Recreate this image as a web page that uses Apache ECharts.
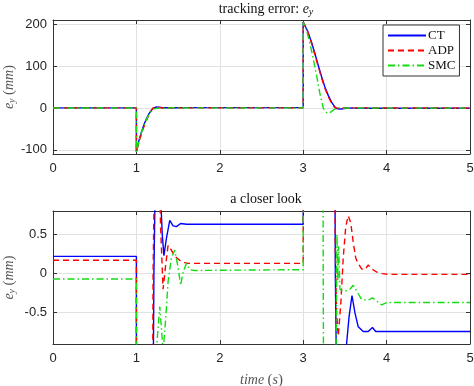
<!DOCTYPE html>
<html>
<head>
<meta charset="utf-8">
<script src="https://cdn.jsdelivr.net/npm/echarts@6/dist/echarts.min.js"></script>
<style>
  html, body { margin: 0; padding: 0; background: #fff; }
  #chart { width: 474px; height: 386px; }
</style>
</head>
<body>
<div id="chart"></div>
<script>
// [time (s), e_y (mm)]
var ctPoints = [
  [0, 0.22], [1, 0.22], [1, -105], [1.03, -78], [1.06, -58], [1.09, -40], [1.12, -26],
  [1.15, -14], [1.18, -5], [1.21, 0], [1.24, 2.2], [1.27, 2.0], [1.29, 1.0], [1.31, 0.5],
  [1.33, 0.23], [1.36, 0.45], [1.40, 0.68], [1.44, 0.61], [1.48, 0.6], [1.53, 0.64],
  [1.6, 0.63], [3, 0.63], [3, 205], [3.05, 185], [3.10, 157], [3.14, 130], [3.18, 102],
  [3.22, 75], [3.26, 50], [3.30, 30], [3.34, 14], [3.37, 5], [3.385, 0], [3.41, -2.2],
  [3.45, -2.6], [3.49, -1.6], [3.52, -0.9], [3.55, -0.55], [3.585, -0.28], [3.62, -0.5],
  [3.66, -0.68], [3.72, -0.74], [3.78, -0.74], [3.83, -0.69], [3.87, -0.74], [5, -0.74]
]
var adpPoints = [
  [0, 0.17], [1, 0.17], [1, -105], [1.03, -82], [1.06, -62], [1.09, -45], [1.12, -30],
  [1.15, -17], [1.18, -6], [1.20, 0], [1.22, 1.6], [1.25, 2.3], [1.27, 1.5], [1.29, 0.6],
  [1.32, -0.2], [1.35, 0.1], [1.38, 0.36], [1.42, 0.3], [1.46, 0.22], [1.52, 0.17],
  [1.58, 0.14], [1.62, 0.13], [3, 0.13], [3, 205], [3.05, 184], [3.10, 155], [3.14, 127],
  [3.18, 99], [3.22, 72], [3.26, 47], [3.30, 27], [3.34, 12], [3.37, 3], [3.385, 0.3],
  [3.40, -0.5], [3.42, -0.8], [3.45, -0.4], [3.48, 0.2], [3.51, 0.6], [3.54, 0.74],
  [3.57, 0.65], [3.60, 0.4], [3.63, 0.2], [3.66, 0.13], [3.70, 0.06], [3.74, 0.05],
  [3.78, 0.11], [3.82, 0.06], [3.88, 0.02], [3.95, 0.0], [4.02, -0.01], [5, -0.01]
]
var smcPoints = [
  [0, -0.07], [1, -0.07], [1, -105], [1.03, -80], [1.06, -60], [1.09, -42], [1.12, -28],
  [1.15, -16], [1.18, -7], [1.21, -2.2], [1.245, -0.9], [1.28, -0.42], [1.30, -0.7],
  [1.32, -1.0], [1.35, -0.6], [1.38, -0.1], [1.42, 0.2], [1.46, 0.30], [1.50, 0.08],
  [1.53, -0.15], [1.56, 0.02], [1.60, 0.13], [1.64, 0.05], [1.70, 0.04], [3, 0.05],
  [3, 205], [3.04, 185], [3.08, 155], [3.12, 118], [3.16, 78], [3.20, 35], [3.24, 0],
  [3.27, -10], [3.30, -13], [3.33, -10], [3.36, -5], [3.38, -2], [3.395, -0.9],
  [3.405, 0.5], [3.415, -0.1], [3.425, 0.35], [3.44, -0.2], [3.47, -0.22], [3.52, -0.22],
  [3.56, -0.2], [3.60, -0.15], [3.64, -0.22], [3.70, -0.33], [3.78, -0.34], [3.83, -0.31],
  [3.88, -0.35], [3.94, -0.40], [4.0, -0.37], [5, -0.37]
]

var seriesNames = ['CT', 'ADP', 'SMC']
var topYTicks = [-100, 0, 100, 200]
var bottomYTicks = [-0.5, 0, 0.5]
var xTicks = [0, 1, 2, 3, 4, 5]

var chart = echarts.init(document.getElementById('chart'))

var sans = 'Liberation Sans'
var serif = 'Liberation Serif'
var axisColor = '#333'
var gridColor = '#e2e2e2'

var nameRich = {
  i: { fontFamily: serif, fontStyle: 'italic', fontSize: 14, color: '#555' },
  s: { fontFamily: serif, fontStyle: 'italic', fontSize: 10, color: '#555', padding: [6, 0, 0, 0] },
  n: { fontFamily: serif, fontSize: 15, color: '#555' }
}

function xAxisFor(gridIndex, withName) {
  return {
    type: 'value', gridIndex: gridIndex, min: 0, max: 5, interval: 1,
    name: withName ? '{i|time} {n|(}{i|s}{n|)}' : '',
    nameLocation: 'middle', nameGap: 29, nameMoveOverlap: false,
    nameTextStyle: { rich: nameRich },
    axisLine: { show: true, onZero: false, lineStyle: { color: axisColor } },
    axisTick: { show: true, inside: true, length: 4, customValues: xTicks, lineStyle: { color: axisColor } },
    axisLabel: { fontFamily: sans, fontSize: 13, color: '#262626', margin: 8, customValues: xTicks },
    splitLine: { show: true, lineStyle: { color: gridColor } }
  }
}

function yAxisFor(gridIndex, lo, hi, ticks) {
  return {
    type: 'value', gridIndex: gridIndex, min: lo, max: hi,
    name: '{i|e}{s|y} {n|(}{i|mm}{n|)}',
    nameLocation: 'middle', nameGap: 36, nameRotate: 90, nameMoveOverlap: false,
    nameTextStyle: { rich: nameRich },
    axisLine: { show: true, onZero: false, lineStyle: { color: axisColor } },
    axisTick: { show: true, inside: true, length: 4, customValues: ticks, lineStyle: { color: axisColor } },
    axisLabel: { fontFamily: sans, fontSize: 13, color: '#262626', margin: 6, customValues: ticks },
    splitLine: { show: true, lineStyle: { color: gridColor } }
  }
}

function boxX(gridIndex) {
  return {
    type: 'value', gridIndex: gridIndex, min: 0, max: 5, interval: 1, position: 'top',
    axisLine: { show: true, onZero: false, lineStyle: { color: axisColor } },
    axisTick: { show: true, inside: true, length: 4, customValues: xTicks, lineStyle: { color: axisColor } },
    axisLabel: { show: false }, splitLine: { show: false }
  }
}

function boxY(gridIndex, lo, hi, ticks) {
  return {
    type: 'value', gridIndex: gridIndex, min: lo, max: hi, position: 'right',
    axisLine: { show: true, onZero: false, lineStyle: { color: axisColor } },
    axisTick: { show: true, inside: true, length: 4, customValues: ticks, lineStyle: { color: axisColor } },
    axisLabel: { show: false }, splitLine: { show: false }
  }
}

var colors = ['#0000ff', '#ff0000', '#11dd11']
var dashes = ['solid', [6, 4], [7, 3, 1.5, 3]]
var allPoints = [ctPoints, adpPoints, smcPoints]

var series = []
for (let g = 0; g < 2; g++) {
  allPoints.forEach(function (pts, k) {
    series.push({
      name: seriesNames[k], type: 'line', data: pts,
      xAxisIndex: g * 2, yAxisIndex: g * 2,
      symbol: 'none', clip: true, animation: false,
      lineStyle: { color: colors[k], width: 1.4, type: dashes[k] },
      itemStyle: { color: colors[k] }
    })
  })
}

var option = {
  backgroundColor: '#fff',
  animation: false,
  title: [
    {
      text: '{t|tracking error: }{i|e}{s|y}', left: 261, top: -4, textAlign: 'center',
      textStyle: { fontWeight: 'normal', rich: {
        t: { fontFamily: serif, fontSize: 14, fontWeight: 'normal', color: '#111' },
        i: { fontFamily: serif, fontStyle: 'italic', fontSize: 14, fontWeight: 'normal', color: '#111' },
        s: { fontFamily: serif, fontStyle: 'italic', fontSize: 10, fontWeight: 'normal', color: '#111', padding: [6, 0, 0, 0] }
      } }
    },
    {
      text: 'a closer look', left: 261, top: 187, textAlign: 'center',
      textStyle: { fontFamily: serif, fontSize: 14, fontWeight: 'normal', color: '#111' }
    }
  ],
  legend: {
    data: seriesNames, orient: 'vertical', left: 383, top: 25,
    itemWidth: 38, itemHeight: 14, itemGap: 2, padding: [4, 4, 4, 4],
    backgroundColor: '#fff', borderColor: '#333', borderWidth: 1,
    itemStyle: { opacity: 0 },
    textStyle: { fontFamily: serif, fontSize: 13, color: '#111', padding: [0, 0, 0, -3] }
  },
  grid: [
    { left: 53, top: 20, width: 417, height: 134, containLabel: false, outerBoundsMode: 'none' },
    { left: 53, top: 211, width: 417, height: 133, containLabel: false, outerBoundsMode: 'none' }
  ],
  xAxis: [xAxisFor(0, false), boxX(0), xAxisFor(1, true), boxX(1)],
  yAxis: [
    yAxisFor(0, -110, 210, topYTicks), boxY(0, -110, 210, topYTicks),
    yAxisFor(1, -0.9, 0.8, bottomYTicks), boxY(1, -0.9, 0.8, bottomYTicks)
  ],
  series: series
}
chart.setOption(option)
</script>
</body>
</html>
